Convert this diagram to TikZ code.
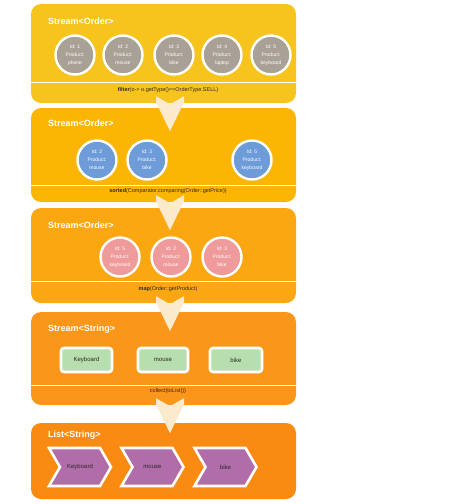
\documentclass[tikz,border=0pt]{standalone}
\usepackage{fontspec}
\setmainfont{Liberation Sans}
\usepackage{xcolor}
\usetikzlibrary{positioning, shapes.symbols}

\definecolor{panelA}{HTML}{F6C41C}
\definecolor{panelB}{HTML}{FBB604}
\definecolor{panelC}{HTML}{FBA711}
\definecolor{panelD}{HTML}{FA961A}
\definecolor{panelE}{HTML}{F98B12}
\definecolor{ordergray}{HTML}{A9A196}
\definecolor{orderblue}{HTML}{6E9CD9}
\definecolor{orderpink}{HTML}{EF9B9B}
\definecolor{boxgreen}{HTML}{B6DEAE}
\definecolor{chevpurple}{HTML}{B06DAA}
\definecolor{arrowcream}{HTML}{FBEACB}
\definecolor{opdark}{HTML}{2E2A25}

\begin{document}
\begin{tikzpicture}[x=1pt, y=-1pt, on grid, auto,
    panel/.style={rectangle, rounded corners=10pt, minimum width=265pt, inner sep=0pt},
    header/.style={anchor=west, text=white, inner sep=0pt, font=\bfseries\fontsize{9}{10}\selectfont},
    oplabel/.style={text=opdark, inner sep=1pt, font=\fontsize{5.5}{6}\selectfont},
    divider/.style={draw=white, line width=1.2pt},
    order/.style={circle, draw=white, line width=2.4pt, minimum size=39pt, inner sep=0pt,
        text=white, align=center, font=\fontsize{5}{8}\selectfont},
    item/.style={rectangle, rounded corners=3pt, fill=boxgreen, draw=white, line width=2.6pt,
        minimum height=24pt, text=opdark, font=\fontsize{6}{7}\selectfont},
    listitem/.style={signal, signal from=west, signal to=east, signal pointer angle=120,
        fill=chevpurple, draw=white, line width=2.6pt, minimum height=38pt, minimum width=62pt,
        inner sep=0pt, text=opdark, font=\fontsize{6}{7}\selectfont},
    flowarrow/.style={fill=arrowcream}
]
    \useasboundingbox (0,0) rectangle (474,504);

    % panels
    \node[panel, fill=panelA, minimum height=99pt] (p1) at (163.5,53.5) {};
    \node[panel, fill=panelB, minimum height=94pt] (p2) at (163.5,155) {};
    \node[panel, fill=panelC, minimum height=95pt] (p3) at (163.5,255.5) {};
    \node[panel, fill=panelD, minimum height=93pt] (p4) at (163.5,358.5) {};
    \node[panel, fill=panelE, minimum height=76pt] (p5) at (163.5,461) {};

    % dividers
    \draw[divider] ([yshift=21pt]p1.south west) -- ([yshift=21pt]p1.south east);
    \draw[divider] ([yshift=17pt]p2.south west) -- ([yshift=17pt]p2.south east);
    \draw[divider] ([yshift=22pt]p3.south west) -- ([yshift=22pt]p3.south east);
    \draw[divider] ([yshift=20pt]p4.south west) -- ([yshift=20pt]p4.south east);

    % headers
    \node[header] (h1) at (48,21) {Stream<Order>};
    \node[header] (h2) at (48,123) {Stream<Order>};
    \node[header] (h3) at (48,225) {Stream<Order>};
    \node[header] (h4) at (48,329) {Stream<String>};
    \node[header] (h5) at (48,435) {List<String>};

    % operations
    \node[oplabel] (op1) at (168,90) {\textbf{filter}(o-> o.getType()==OrderType.SELL)};
    \node[oplabel] (op2) at (168,191) {\textbf{sorted}(Comparator.comparing(Order::getPrice))};
    \node[oplabel] (op3) at (168,289) {\textbf{map}(Order::getProduct)};
    \node[oplabel] (op4) at (168,391) {collect(toList())};

    % orders
    \node[order, fill=ordergray] (o1) at (75,55) {Id: 1\\Product:\\phone};
    \node[order, fill=ordergray] (o2) [right=48pt of o1] {Id: 2\\Product:\\mouse};
    \node[order, fill=ordergray] (o3) [right=51pt of o2] {Id: 3\\Product:\\bike};
    \node[order, fill=ordergray] (o4) [right=48pt of o3] {Id: 4\\Product:\\laptop};
    \node[order, fill=ordergray] (o5) [right=49pt of o4] {Id: 5\\Product:\\keyboard};

    \node[order, fill=orderblue] (s1) at (97,160) {Id: 2\\Product:\\mouse};
    \node[order, fill=orderblue] (s2) [right=50pt of s1] {Id: 3\\Product:\\bike};
    \node[order, fill=orderblue] (s3) [right=105pt of s2] {Id: 5\\Product:\\keyboard};

    \node[order, fill=orderpink] (m1) at (120,257) {Id: 5\\Product:\\keyboard};
    \node[order, fill=orderpink] (m2) [right=51pt of m1] {Id: 2\\Product:\\mouse};
    \node[order, fill=orderpink] (m3) [right=51pt of m2] {Id: 3\\Product:\\bike};

    % products
    \node[item, minimum width=51pt] (b1) at (86.5,360) {Keyboard};
    \node[item, minimum width=50pt] (b2) [right=76.5pt of b1] {mouse};
    \node[item, minimum width=52pt] (b3) [right=73pt of b2] {bike};

    \node[listitem] (l1) at (80,467) {Keyboard};
    \node[listitem] (l2) [right=72.5pt of l1] {mouse};
    \node[listitem] (l3) [right=73pt of l2] {bike};

    % arrows between the stages
    \foreach \a/\b in {p1/p2, p2/p3, p3/p4, p4/p5}
        \fill[flowarrow] ([xshift=-7.5pt,yshift=7pt]\a.south) -- ++(14,8) -- ++(14,-8)
            -- ++(0,6) -- ++(-14,29) -- ++(-14,-29) -- cycle;
\end{tikzpicture}
\end{document}
